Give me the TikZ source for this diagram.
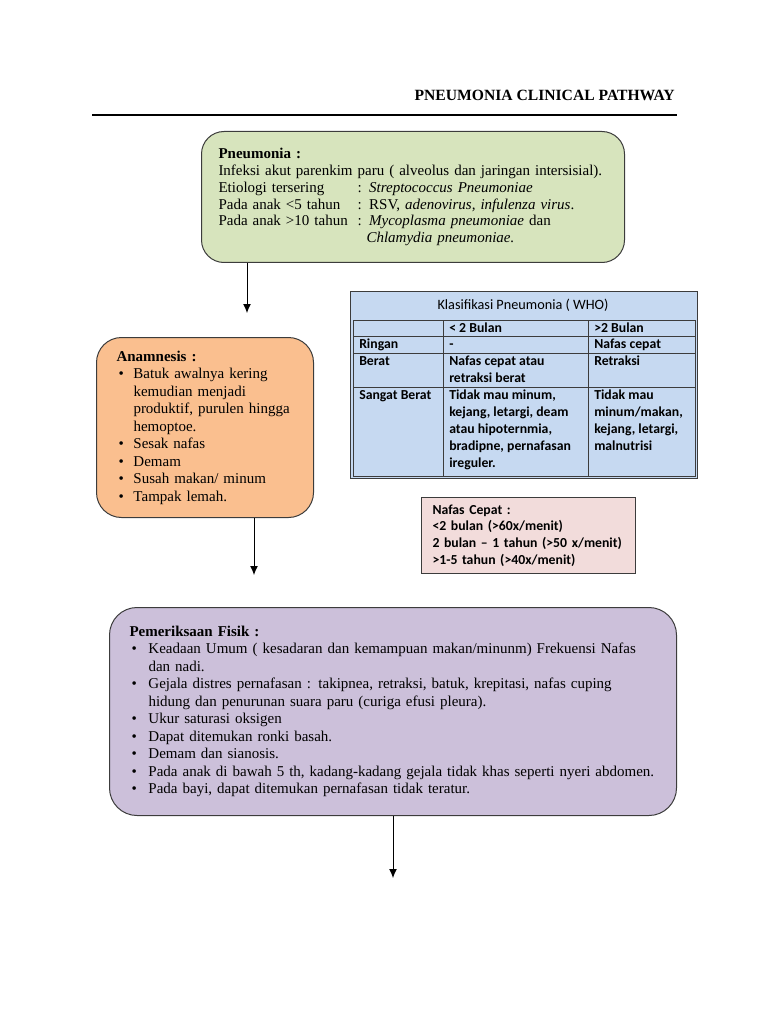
\documentclass[tikz,border=0pt]{standalone}
\usepackage{fontspec}
\setmainfont{Liberation Serif}
\newfontfamily\calibri{Carlito}
\usetikzlibrary{arrows.meta}
\definecolor{pneugreen}{RGB}{215,228,189}
\definecolor{anamorange}{RGB}{250,191,143}
\definecolor{whoblue}{RGB}{198,217,241}
\definecolor{nafaspink}{RGB}{242,220,219}
\definecolor{fisikpurple}{RGB}{204,192,218}
\definecolor{edgegray}{RGB}{60,60,60}
\newcommand{\bul}{\hspace*{1.6pt}\textbullet}

\begin{document}
\begin{tikzpicture}[x=0.8pt, y=-0.8pt,
    box/.style={rectangle, draw=edgegray, line width=0.8pt, rounded corners=20pt, anchor=north west, align=left, font=\fontsize{12}{14}\selectfont},
    tabbox/.style={rectangle, draw=edgegray, line width=0.8pt, anchor=north west, align=left, font=\calibri\bfseries\fontsize{11}{13.4}\selectfont},
    cell/.style={anchor=north west, inner sep=0pt, align=left, font=\calibri\bfseries\fontsize{11}{13.6}\selectfont},
    gridline/.style={edgegray, line width=0.6pt},
    arrow/.style={-{Latex[length=7.2pt, width=6.4pt]}, line width=0.8pt}
]
\useasboundingbox (0,0) rectangle (768,1024);

% header
\node[anchor=base east, inner sep=0pt, font=\bfseries\fontsize{12.5}{14}\selectfont] (title) at (675,101) {PNEUMONIA CLINICAL PATHWAY};
\draw[line width=1.6pt] (92,115) -- (677,115);

% definisi
\node[box, fill=pneugreen, rounded corners=18pt, minimum width=338.4pt, minimum height=104.8pt, text width=311.2pt, inner xsep=13.6pt, font=\fontsize{12}{13.5}\selectfont] (pneumonia) at (201,131) {%
\textbf{Pneumonia :}\\
Infeksi akut parenkim paru ( alveolus dan jaringan intersisial).\\
\makebox[111.2pt][l]{Etiologi tersering}: \textit{Streptococcus Pneumoniae}\\
\makebox[111.2pt][l]{Pada anak <5 tahun}: RSV, \textit{adenovirus, infulenza virus}.\\
\makebox[111.2pt][l]{Pada anak >10 tahun}: \textit{Mycoplasma pneumoniae} dan\\
\hspace*{118.4pt}\textit{Chlamydia pneumoniae.}};

% anamnesis
\node[box, fill=anamorange, minimum width=173.6pt, minimum height=144pt, text width=141.6pt, inner xsep=16pt] (anamnesis) at (96,337) {%
\begin{tabular}{@{}p{13.6pt}@{}l@{}}
\multicolumn{2}{@{}l@{}}{\textbf{Anamnesis :}}\\
\bul & Batuk awalnya kering\\
 & kemudian menjadi\\
 & produktif, purulen hingga\\
 & hemoptoe.\\
\bul & Sesak nafas\\
\bul & Demam\\
\bul & Susah makan/ minum\\
\bul & Tampak lemah.
\end{tabular}};

% klasifikasi WHO
\node[tabbox, fill=whoblue, minimum width=277.6pt, minimum height=149.6pt] (who) at (350,291) {};
\node[cell, anchor=center, font=\calibri\fontsize{11.4}{13.6}\selectfont] (whotitle) at (523,305) {Klasifikasi Pneumonia ( WHO)};
\draw[gridline] (353,320) rectangle (695,476);
\foreach \y in {336,353,387}
    \draw[gridline] (353,\y) -- (695,\y);
\foreach \x in {443,588}
    \draw[gridline] (\x,320) -- (\x,476);

\node[cell] (hdrA) at (449,320.5) {\strut< 2 Bulan};
\node[cell] (hdrB) at (594,320.5) {\strut>2 Bulan};
\node[cell] (ringan) at (359,336.5) {\strut Ringan};
\node[cell] (ringanA) at (449,336.5) {\strut-};
\node[cell] (ringanB) at (594,336.5) {\strut Nafas cepat};
\node[cell] (berat) at (359,353.5) {\strut Berat};
\node[cell] (beratA) at (449,353.5) {\strut Nafas cepat atau\\retraksi berat};
\node[cell] (beratB) at (594,353.5) {\strut Retraksi};
\node[cell] (sangat) at (359,387.5) {\strut Sangat Berat};
\node[cell] (sangatA) at (449,387.5) {\strut Tidak mau minum,\\kejang, letargi, deam\\atau hipoternmia,\\bradipne, pernafasan\\ireguler.};
\node[cell] (sangatB) at (594,387.5) {\strut Tidak mau\\minum/makan,\\kejang, letargi,\\malnutrisi};

% nafas cepat
\node[tabbox, fill=nafaspink, minimum width=171.2pt, minimum height=60.8pt, text width=153.6pt, inner xsep=8.8pt] (nafas) at (421,497) {%
Nafas Cepat :\\
<2 bulan (>60x/menit)\\
2 bulan – 1 tahun (>50 x/menit)\\
>1-5 tahun (>40x/menit)};

% pemeriksaan fisik
\node[box, fill=fisikpurple, rounded corners=22pt, minimum width=453.6pt, minimum height=166.4pt, text width=421.6pt, inner xsep=16pt] (fisik) at (109,607) {%
\begin{tabular}{@{}p{15.2pt}@{}l@{}}
\multicolumn{2}{@{}l@{}}{\textbf{Pemeriksaan Fisik :}}\\
\bul & Keadaan Umum ( kesadaran dan kemampuan makan/minunm) Frekuensi Nafas\\
 & dan nadi.\\
\bul & Gejala distres pernafasan : takipnea, retraksi, batuk, krepitasi, nafas cuping\\
 & hidung dan penurunan suara paru (curiga efusi pleura).\\
\bul & Ukur saturasi oksigen\\
\bul & Dapat ditemukan ronki basah.\\
\bul & Demam dan sianosis.\\
\bul & Pada anak di bawah 5 th, kadang-kadang gejala tidak khas seperti nyeri abdomen.\\
\bul & Pada bayi, dapat ditemukan pernafasan tidak teratur.
\end{tabular}};

% alur
\coordinate (endA) at (247,313);
\coordinate (endB) at (254,575);
\coordinate (endC) at (393,878);
\draw[arrow] (endA |- pneumonia.south) -- (endA);
\draw[arrow] (endB |- anamnesis.south) -- (endB);
\draw[arrow] (endC |- fisik.south) -- (endC);

\end{tikzpicture}
\end{document}
